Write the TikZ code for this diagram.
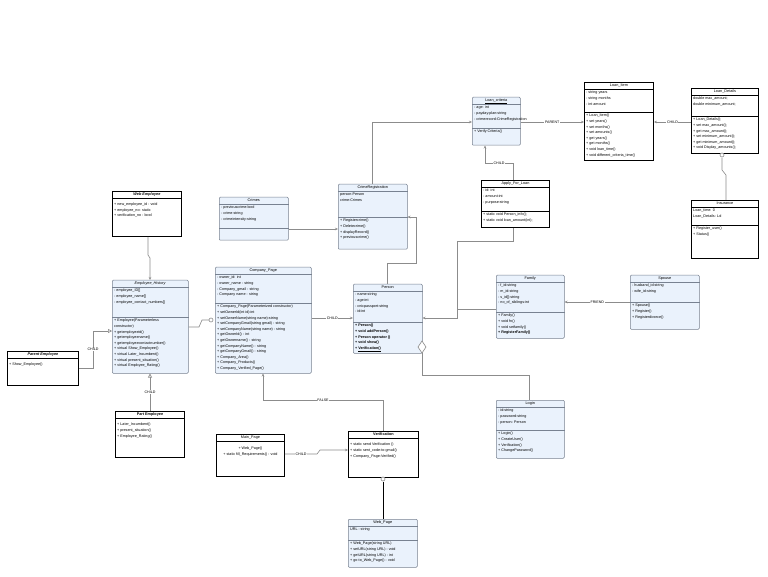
\documentclass[tikz,border=0pt]{standalone}
\usepackage{fontspec}
\setmainfont{Liberation Sans}
\usetikzlibrary{arrows.meta}
\definecolor{bfill}{RGB}{234,242,252}
\definecolor{bdraw}{RGB}{120,130,145}
\tikzset{
 bluebox/.style={draw=bdraw, fill=bfill, rounded corners=1pt, line width=0.5pt, inner sep=0pt},
 blackbox/.style={draw=black, fill=white, line width=0.9pt, inner sep=0pt},
 blueboxline/.style={draw=bdraw, line width=0.7pt},
 blackboxline/.style={draw=black, line width=0.9pt},
 ttl/.style={font=\fontsize{3.8}{4.5}\selectfont, inner sep=0.5pt},
 txt/.style={font=\fontsize{3.7}{5.6}\selectfont, align=left, inner sep=0.5pt},
 conn/.style={draw=black!45, line width=0.6pt},
 arr/.style={conn, -{Stealth[length=3pt,width=2.5pt]}},
 inh/.style={conn, -{Triangle[open,length=4pt,width=4pt]}},
 lbl/.style={font=\fontsize{3.6}{4}\selectfont, fill=white, inner sep=0.6pt},
}
\newcommand\uc[9]{%
 \node[#1, minimum width=#5pt, minimum height=#6pt, anchor=north west] (#2) at (#3,#4) {};
 \node[ttl, anchor=north] at ([yshift=-1pt]#2.north) {#8};
 \draw[#1line] ([yshift=-7pt]#2.north west) -- ([yshift=-7pt]#2.north east);
 \node[txt, anchor=north west] at ([yshift=-8.5pt,xshift=1.5pt]#2.north west) {#9};
}
\newcommand\um[4]{%
 \draw[#1line] ([yshift=-#3pt]#2.north west) -- ([yshift=-#3pt]#2.north east);
 \node[txt, anchor=north west] at ([yshift=-#3pt-1.5pt,xshift=1.5pt]#2.north west) {#4};
}
\begin{document}
\begin{tikzpicture}[x=1pt,y=-1pt]
\useasboundingbox[fill=white] (0,0) rectangle (768,577);

% ---- classes ----
\uc{bluebox}{crit}{472}{97}{48}{48}{}{\underline{Loan\_criteria}}{- age: int\\- payday:plan:string\\- crimerecord:CrimeRegistration}
\um{bluebox}{crit}{31}{+ Verify Criteria()}

\uc{blackbox}{item}{584}{82}{69}{78}{}{Loan\_Item}{- string years\\- string months\\- int amount}
\um{blackbox}{item}{30}{+ Loan\_Item()\\+ set years()\\+ set months()\\+ set amounts()\\+ get years()\\+ get months()\\+ void loan\_time()\\+ void different\_criteria\_time()}

\uc{blackbox}{det}{691}{88}{67}{65}{}{Loan\_Details}{double max\_amount;\\double minimum\_amount;}
\um{blackbox}{det}{28}{+ Loan\_Details();\\+ set max\_amount();\\+ get max\_amount();\\+ set minimum\_amount();\\+ get minimum\_amount();\\+ void Display\_amounts();}

\uc{blackbox}{apply}{481}{180}{68}{47}{}{Apply\_For\_Loan}{- id: int\\- amount:int\\- purpose:string}
\um{blackbox}{apply}{31}{+ static void Person\_info();\\+ static void loan\_amount(int);}

\uc{blackbox}{ins}{691}{200}{67}{58}{}{Insurance}{Loan\_time: 0\\Loan\_Details: Ld}
\um{blackbox}{ins}{25}{+ Register\_user()\\+ Status()}

\uc{blackbox}{webemp}{112}{191}{69}{45}{}{\textbf{\textit{Web Employee}}}{\\+ new\_employee\_id : void\\+ employee\_no: static\\+ verification\_no : bool}

\uc{bluebox}{crimes}{219}{197}{69}{43}{}{Crimes}{- previouscrime:bool\\- crime:string\\- crimeintensity:string}
\um{bluebox}{crimes}{31}{}

\uc{bluebox}{creg}{338}{184}{69}{65}{}{CrimeRegistration}{person:Person\\crime:Crimes}
\um{bluebox}{creg}{33}{+ Registercrime()\\+ Deletecrime()\\+ displayRecord()\\+ previouscrime()}

\uc{bluebox}{ehist}{112}{280}{76}{93}{}{\textit{Employee\_History}}{- employee\_ID[]\\- employee\_name[]\\- employee\_contact\_numbers[]}
\um{bluebox}{ehist}{37}{+ Employee(Parameterless\\constructor)\\+ getemployeeid()\\+ getemployeename()\\+ getemployeecontactnumber()\\+ virtual Show\_Employee()\\+ virtual Later\_Incumbent()\\+ virtual present\_situation()\\+ virtual Employee\_Rating()}

\uc{bluebox}{comp}{215}{267}{96}{106}{}{Company\_Page}{- owner\_id: int\\- owner\_name : string\\- Company\_gmail : string\\- Company name : string}
\um{bluebox}{comp}{36}{+ Company\_Page(Parameterized constructor)\\+ setOwnerId(int id):int\\+ setOwnerName(string name):string\\+ setCompanyGmail(string gmail) : string\\+ setCompanyName(string name) : string\\+ getOwnerId() : int\\+ getOwnername() : string\\+ getCompanyName() : string\\+ getCompanyGmail() : string\\+ Company\_Area()\\+ Company\_Products()\\+ Company\_Verified\_Page()}

\uc{bluebox}{person}{353}{284}{69}{69}{}{Person}{- name:string\\- age:int\\- cnicpassport:string\\- id:int}
\um{bluebox}{person}{38}{\textbf{+ Person()}\\\textbf{+ void addPerson()}\\\textbf{+ Person operator ()}\\\textbf{+ void show()}\\\textbf{+ \underline{Verification()}}}

\uc{bluebox}{family}{496}{275}{68}{63}{}{Family}{- f\_id:string\\- m\_id:string\\- s\_id[]:string\\- no\_of\_siblings:int}
\um{bluebox}{family}{37}{+ Family()\\+ void fn()\\+ void setfamily()\\\textbf{+ RegisterFamily()}}

\uc{bluebox}{spouse}{630}{275}{69}{54}{}{Spouse}{- husband\_id:string\\- wife\_id:string}
\um{bluebox}{spouse}{27}{+ Spouse()\\+ Register()\\+ Registerdivorce()}

\uc{bluebox}{login}{496}{400}{68}{58}{}{Login}{- id:string\\- password:string\\- person: Person}
\um{bluebox}{login}{30}{+ Login()\\+ CreateUser()\\+ Verification()\\+ ChangePassword()}

\uc{blackbox}{parent}{7}{351}{71}{34}{}{\textbf{\textit{Parent Employee}}}{\\+ Show\_Employee()}

\uc{blackbox}{part}{115}{411}{69}{46}{}{\textbf{Part Employee}}{\\+ Later\_Incumbent()\\+ present\_situation()\\+ Employee\_Rating()}

\uc{blackbox}{main}{216}{434}{68}{42}{}{Main\_Page}{}
\node[txt, align=center] at ([yshift=4pt]main.center) {+ Web\_Page()\\+ static fill\_Requirements() : void};

\uc{blackbox}{verif}{348}{431}{70}{46}{}{\textbf{Verification}}{\\+ static send Verification ()\\+ static sent\_code-to-gmail()\\+ Company\_Page-Verified()}

\uc{bluebox}{web}{348}{519}{69}{48}{}{Web\_Page}{URL : string}
\um{bluebox}{web}{21}{+ Web\_Page(string URL)\\+ setURL(string URL) : void\\+ getURL(string URL) : int\\+ go-to\_Web\_Page() : void}

% ---- connectors ----
\coordinate (j1) at (457,309);
\draw[arr] (crit.east |- 0,122) -- node[lbl]{PARENT} (item.west |- 0,122);
\draw[arr] (det.west |- 0,122) -- node[lbl]{CHILD} (item.east |- 0,122);
\draw[arr] (apply.north -| 513,0) |- (485,163) node[lbl, pos=0.75]{CHILD} -- (crit.south -| 485,0);
\draw[arr] (creg.north -| 372,0) |- (crit.west |- 0,122);
\draw[arr] (crimes.east |- 0,229) -- (creg.west |- 0,229);
\draw[arr] (person.north -| 387,0) |- (416,263) |- (creg.east |- 0,217);
\draw[arr] (apply.south -| 513,0) |- (457,241) |- (person.east |- 0,318);
\draw[conn] (family.west |- 0,309) -- (j1);
\draw[arr] (spouse.west |- 0,302) -- node[lbl]{FRIEND} (family.east |- 0,302);
\draw[conn] (person.east |- 0,353) |- (529,375) -- (login.north -| 529,0);
\draw[conn, fill=white] (422,341) -- (426,347) -- (422,353) -- (418,347) -- cycle;
\draw[arr] (comp.east |- 0,318) -- node[lbl]{CHILD} (person.west |- 0,318);
\draw[conn] (ehist.east |- 0,327) -- (199,327) -- (202,320) -- (209,320);
\draw[conn, fill=white] (211,320) circle (2pt);
\draw[arr] (webemp.south -| 148,0) -- (148,255) -- (150,258) -- (ehist.north -| 150,0);
\draw[inh] (parent.east |- 0,368) -- (93,368) |- node[lbl, pos=0.25]{CHILD} (ehist.west |- 0,331);
\draw[inh] (part.north -| 150,0) -- node[lbl]{CHILD} (ehist.south -| 150,0);
\draw[arr] (verif.north -| 383,0) |- (263,400) node[lbl, pos=0.75]{FALSE} -- (comp.south -| 263,0);
\draw[arr] (main.east |- 0,454) -- node[lbl]{CHILD} (317,454) -- (320,450) -- (verif.west |- 0,450);
\draw[draw=black, line width=1pt] (verif.south -| 383,0) ++(0,4) -- (web.north -| 383,0);
\draw[conn, fill=white] (383,479) circle (2pt);
\draw[conn] (det.south -| 722,0) ++(0,4) -- (722,170) -- (726,175) -- (ins.north -| 726,0);
\draw[conn, fill=white] (722,155) circle (2pt);
\end{tikzpicture}
\end{document}
